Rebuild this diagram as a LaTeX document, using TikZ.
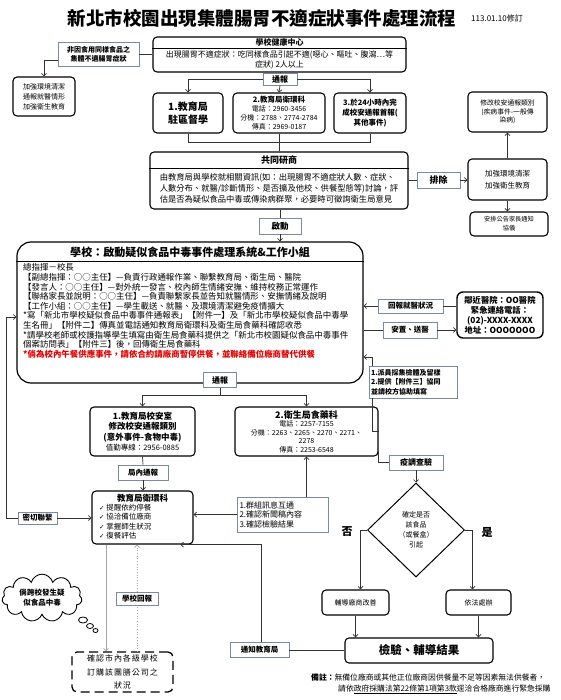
\documentclass[tikz,border=0pt]{standalone}
\usepackage{fontspec}
\setmainfont{Noto Sans CJK TC}
\newfontfamily\dejavu{DejaVu Sans}
\usetikzlibrary{arrows.meta,shapes.geometric,shapes.symbols,calc}
\definecolor{lblc}{RGB}{120,138,165}
\definecolor{linec}{RGB}{50,50,50}
\definecolor{redc}{RGB}{225,0,0}
\newcommand{\fsz}[2]{\fontsize{#1}{#2}\selectfont}
\begin{document}
\begin{tikzpicture}[x=1pt,y=-1pt,
  box/.style={draw=black, line width=1.1pt, rounded corners=4pt, align=center, inner sep=0pt},
  lbl/.style={draw=lblc, line width=0.9pt, fill=white, align=center, inner sep=0pt},
  conn/.style={draw=linec, line width=0.7pt},
  arr/.style={conn, -{Straight Barb[length=2.5pt,width=5pt]}},
  ]
\useasboundingbox (0,0) rectangle (560,700);
\fill[white] (0,0) rectangle (560,700);

% title
\node[font=\bfseries\fsz{18.5}{20}] (title) at (262,18) {新北市校園出現集體腸胃不適症狀事件處理流程};
\node[font=\fsz{8}{9}] (date) at (497,18) {113.01.10修訂};

% health centre
\node[box, minimum width=253pt, minimum height=35pt] (health) at (279.5,54.5) {};
\node[font=\bfseries\fsz{8}{9}] (healthT) at (279.5,42.5) {學校健康中心};
\draw[line width=0.9pt] (health.west |- 0,48) -- (health.east |- 0,48);
\node[font=\fsz{8}{9.5}, align=center] (healthB) at (279.5,60) {出現腸胃不適症狀：吃同樣食品引起不適(噁心、嘔吐、腹瀉…等\\症狀) 2人以上};

\node[lbl, minimum width=81pt, minimum height=24pt, font=\bfseries\fsz{7}{9}] (nonfood) at (98.5,54) {非因食用同樣食品之\\集體不適腸胃症狀};
\node[box, minimum width=62pt, minimum height=39pt, font=\fsz{7}{10}] (env1) at (44,96.5) {加強環境清潔\\通報就醫情形\\加強衛生教育};

\node[lbl, minimum width=34pt, minimum height=12pt, font=\bfseries\fsz{8}{9}] (tb1) at (280,79) {通報};
\node[box, minimum width=70pt, minimum height=40pt, font=\bfseries\fsz{10}{13}] (b1) at (188,113) {1.教育局\\駐區督學};
\node[box, minimum width=92pt, minimum height=40pt, font=\fsz{7}{9}] (b2) at (279,113) {{\bfseries\fsz{7.5}{9}2.教育局衛環科}\\電話：2960-3456\\分機：2788、2774-2784\\傳真：2969-0187};
\node[box, minimum width=72pt, minimum height=40pt, font=\bfseries\fsz{7.5}{10}] (b3) at (370,113) {3.於24小時內完\\成校安通報首報(\\其他事件)};

\draw[conn] (nonfood.east) -- (nonfood.east -| health.west);
\draw[arr] ([yshift=-6pt]nonfood.west) -| (env1.north);
\draw[conn] (health.south) -- (tb1.north);
\draw[arr] (tb1.west) -| (b1.north);
\draw[arr] (tb1.south) -- (b2.north);
\draw[arr] (tb1.east) -| (b3.north);

% joint discussion
\node[box, minimum width=258pt, minimum height=57pt] (gt) at (279,180.5) {};
\node[font=\bfseries\fsz{9}{10}] (gtT) at (279,160) {共同研商};
\draw[line width=0.9pt] (gt.west |- 0,168) -- (gt.east |- 0,168);
\node[font=\fsz{8.3}{10.8}, align=left] (gtB) at (279,188.5) {由教育局與學校就相關資訊(如：出現腸胃不適症狀人數、症狀、\\人數分布、就醫/診斷情形、是否擴及他校、供餐型態等)討論，評\\估是否為疑似食品中毒或傳染病群聚，必要時可徵詢衛生局意見};
\draw[conn] (b1.south) |- ($(b2.south)!0.5!(gt.north)$) -| (b3.south);
\draw[conn] (b2.south) -- (gt.north);

% exclude branch
\node[lbl, minimum width=43pt, minimum height=16pt, font=\bfseries\fsz{9}{10}] (pc) at (438.5,180) {排除};
\node[box, minimum width=79pt, minimum height=41pt, font=\fsz{7.5}{12}] (env2) at (507.5,179.5) {加強環境清潔\\加強衛生教育};
\node[box, minimum width=79pt, minimum height=40pt, font=\fsz{6.8}{8.5}] (mod1) at (507.5,112) {修改校安通報類別\\(疾病事件-一般傳\\染病)};
\node[box, minimum width=78pt, minimum height=24pt, font=\fsz{6.2}{9}] (ntc) at (509,224) {安排公告家長通知\\協儀};
\draw[conn] (pc.west -| gt.east) -- (pc.west);
\draw[arr] (pc.east) -- (pc.east -| env2.west);
\draw[arr] (env2.north) -- (mod1.south);
\draw[arr] (env2.south) -- (env2.south |- ntc.north);

% start
\node[lbl, minimum width=42pt, minimum height=16pt, font=\bfseries\fsz{8.5}{10}] (qd) at (280,226) {啟動};
\node[box, rounded corners=14pt, line width=1.2pt, minimum width=346pt, minimum height=141pt] (big) at (190,312.5) {};
\node[font=\bfseries\fsz{11}{12}] (bigT) at (190,252) {學校：啟動疑似食品中毒事件處理系統\&工作小組};
\draw[line width=0.9pt] (big.west |- 0,261) -- (big.east |- 0,261);
\node[anchor=north west, align=left, font=\fsz{8.45}{9.6}, inner sep=0pt] (bigB) at (23,263.5) {總指揮－校長\\
【副總指揮：○○主任】—負責行政通報作業、聯繫教育局、衛生局、醫院\\
【發言人：○○主任】—對外統一發言、校內師生情緒安撫、維持校務正常運作\\
【聯絡家長並說明：○○主任】—負責聯繫家長並告知就醫情形、安撫情緒及說明\\
【工作小組：○○主任】—學生載送、就醫、及環境清潔避免疫情擴大\\
*寫「新北市學校疑似食品中毒事件通報表」【附件一】及「新北市學校疑似食品中毒學\\
生名冊」【附件二】傳真並電話通知教育局衛環科及衛生局食藥科確認收悉\\
*請學校老師或校護指導學生填寫由衛生局食藥科提供之「新北市校園疑似食品中毒事件\\
個案訪問表」【附件三】後，回傳衛生局食藥科\\
{\color{redc}\bfseries *倘為校內午餐供應事件，請依合約請廠商暫停供餐，並聯絡備位廠商替代供餐}};
\draw[conn] (qd.north |- gt.south) -- (qd.north);
\draw[arr] (qd.south) -- (qd.south |- big.north);

% hospital
\node[box, line width=1.4pt, rounded corners=6pt, minimum width=86pt, minimum height=46pt, font=\bfseries\fsz{8.3}{10}] (hos) at (500,315) {鄰近醫院：OO醫院\\緊急連絡電話：\\(02)-XXXX-XXXX\\地址：OOOOOOO};
\node[lbl, minimum width=65pt, minimum height=14pt, font=\bfseries\fsz{7.5}{9}] (hb) at (410.5,306) {回報就醫狀況};
\node[lbl, minimum width=54pt, minimum height=16pt, font=\bfseries\fsz{7.5}{9}] (az) at (410,330) {安置、送醫};
\draw[conn] (hb.east) -- (hb.east -| hos.west);
\draw[arr] (hb.west) -- (hb.west -| big.east);
\draw[conn] (az.west -| big.east) -- (az.west);
\draw[arr] (az.east) -- (az.east -| hos.west);

% report 2
\node[lbl, minimum width=33pt, minimum height=15pt, font=\bfseries\fsz{8}{9}] (tb2) at (220,380) {通報};
\node[box, minimum width=105pt, minimum height=49pt, font=\bfseries\fsz{8.5}{10.5}] (c1) at (142.5,431.5) {1.教育局校安室\\修改校安通報類別\\(意外事件-食物中毒)\\{\mdseries\fsz{7.5}{10.5}值勤專線：2956-0885}};
\node[box, minimum width=143pt, minimum height=49pt, font=\fsz{7}{8.5}] (c2) at (306.5,431.5) {{\bfseries\fsz{9}{10}2.衛生局食藥科}\\電話：2257-7155\\分機：2263、2265、2270、2271、\\2278\\傳真：2253-6548};
\coordinate (tj) at (tb2.south |- 0,395);
\draw[conn] (tb2.south) -- (tj);
\draw[arr] (tj) -| (c1.north);
\draw[arr] (tj) -| (c2.north);

\node[lbl, minimum width=88pt, minimum height=32pt, font=\bfseries\fsz{7}{9.5}, align=left, text width=84pt] (py) at (413,382) {1.派員採集檢體及留樣\\2.提供【附件三】協同\\並請校方協助填寫};
\draw[arr] ([xshift=4pt]py.north west) |- (big.east |- 0,357);
\draw[conn] ([xshift=4pt]py.south west) |- (c2.east);

\node[lbl, minimum width=50pt, minimum height=15pt, font=\bfseries\fsz{7.5}{9}] (jn) at (143,472.5) {局內通報};
\node[box, minimum width=101pt, minimum height=53pt] (wh) at (142.5,517.5) {};
\node[font=\bfseries\fsz{8.5}{10}] (whT) at (142.5,498.5) {教育局衛環科};
\node[anchor=north west, align=left, font=\fsz{7.5}{9.4}, inner sep=0pt] (whB) at (99,504) {{\dejavu\fsz{6.5}{9.4}✓} 提醒依約停餐\\{\dejavu\fsz{6.5}{9.4}✓} 協洽備位廠商\\{\dejavu\fsz{6.5}{9.4}✓} 掌握師生狀況\\{\dejavu\fsz{6.5}{9.4}✓} 復餐評估};
\draw[conn] (c1.south) -- (jn.north);
\draw[arr] (jn.south) -- (jn.south |- wh.north);

\node[lbl, minimum width=39pt, minimum height=12pt, font=\bfseries\fsz{7.5}{9}] (mq) at (37.5,518) {密切聯繫};
\coordinate (mqc) at (6,317);
\draw[arr] (mq.west) -| (mqc) -- (mqc -| big.west);
\draw[arr] (mq.east) -- (mq.east -| wh.west);

\node[lbl, minimum width=91pt, minimum height=35pt, font=\fsz{8}{9.5}, align=left, text width=86pt] (qz) at (282.5,514.5) {1.群組訊息互通\\2.確認新聞稿內容\\3.確認檢驗結果};
\draw[arr] (qz.west) -- (qz.west -| wh.east);
\draw[arr] (qz.north -| c2.south) -- (c2.south);

% investigation
\node[lbl, minimum width=54pt, minimum height=15pt, font=\bfseries\fsz{8}{9}] (yd) at (416,462.5) {疫調查驗};
\node[draw, line width=1pt, diamond, minimum width=97pt, minimum height=94pt, inner sep=0pt, align=center, font=\fsz{7}{10}] (dm) at (416,530) {確定是否\\該食品\\（或餐盒）\\引起};
\draw[conn] ([yshift=6pt]c2.south east) |- (yd.west);
\draw[arr] (yd.south) -- (dm.north);
\node[font=\bfseries\fsz{11}{12}] (no) at (347,532) {否};
\node[font=\bfseries\fsz{11}{12}] (yes) at (487,532) {是};
\node[box, minimum width=67pt, minimum height=25pt, font=\fsz{7}{9}] (fd) at (355.5,602.5) {輔導廠商改善};
\node[box, minimum width=65pt, minimum height=25pt, font=\fsz{7}{9}] (yf) at (478.5,602.5) {依法處辦};
\draw[arr] (dm.west) -| ([xshift=5pt]fd.north);
\draw[arr] (dm.east) -| ([xshift=-6pt]yf.north);
\node[box, minimum width=148pt, minimum height=25pt, font=\bfseries\fsz{11.5}{13}] (jg) at (419,650.5) {檢驗、輔導結果};
\draw[arr] (fd.south) -- (fd.south |- jg.north);
\draw[arr] (yf.south) -- (yf.south |- jg.north);
\node[lbl, minimum width=59pt, minimum height=15pt, font=\bfseries\fsz{7.5}{9}] (tz) at (259.5,649.5) {通知教育局};
\draw[conn] (jg.west) -- (jg.west -| tz.east);
\draw[arr] ([xshift=1.5pt]tz.north) |- ([xshift=-13pt]wh.south east);

% cross-school
\node[draw, line width=1.3pt, dash pattern=on 9pt off 5pt, rounded corners=5pt, minimum width=101pt, minimum height=40pt, align=center, inner sep=0pt, font=\fsz{8}{13.5}\addfontfeature{LetterSpace=12}] (ds) at (122.5,672) {確認市內各級學校\\訂購該團膳公司之\\狀況};
\node[lbl, minimum width=42pt, minimum height=13pt, font=\bfseries\fsz{7.5}{9}] (xh) at (137,598.5) {學校回報};
\draw[arr, draw=gray!70] (wh.south -| 106,0) -- (ds.north -| 106,0);
\draw[conn, draw=gray!70, dotted] (ds.north -| xh.south) -- (xh.south);
\draw[arr, draw=gray!70, dotted] (xh.north) -- (xh.north |- wh.south);

\node[cloud, draw, line width=0.9pt, cloud puffs=11, aspect=1.8, minimum width=80pt, minimum height=47pt, inner sep=0pt, align=center, font=\bfseries\fsz{7.5}{10}] (cl) at (42,598) {倘跨校發生疑\\似食品中毒};
\node[ellipse, draw, line width=0.8pt, minimum width=9pt, minimum height=6pt, inner sep=0pt] (bub1) at (83,620) {};
\node[ellipse, draw, line width=0.8pt, minimum width=7pt, minimum height=5pt, inner sep=0pt] (bub2) at (90,626) {};
\node[ellipse, draw, line width=0.8pt, minimum width=5pt, minimum height=4pt, inner sep=0pt] (bub3) at (95.5,630.5) {};

% note
\node[anchor=west, font=\fsz{7.8}{9}, inner sep=0pt] (bz1) at (311,678) {{\bfseries 備註：}無備位廠商或其他正位廠商因供餐量不足等因素無法供餐者，};
\node[anchor=west, font=\fsz{7.8}{9}, inner sep=0pt] (bz2) at (338,689) {請依\underline{政府採購法第22條第1項第3款}逕洽合格廠商進行緊急採購};
\end{tikzpicture}
\end{document}
